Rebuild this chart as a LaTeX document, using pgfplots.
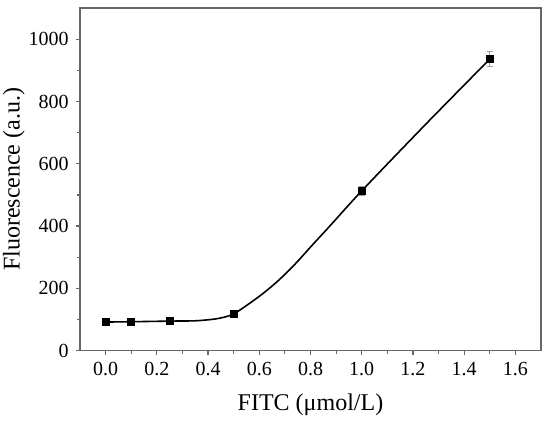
\documentclass[border=0pt]{standalone}
\usepackage{fontspec}
\setmainfont{Liberation Serif}
\usepackage{pgfplots}
\pgfplotsset{compat=1.18}

\definecolor{axisgray}{gray}{0.40}
\definecolor{errgray}{gray}{0.62}

\begin{document}
\begin{tikzpicture}
\begin{axis}[
    name=main,
    at={(0,0)}, anchor=south west,
    scale only axis,
    width=230.5pt, height=171.35pt,
    xmin=-0.1, xmax=1.7,
    ymin=0, ymax=1100,
    xtick={0,0.2,...,1.6},
    ytick={0,200,...,1000},
    minor x tick num=1,
    minor y tick num=1,
    axis line style={axisgray, line width=0.6pt},
    tick style={axisgray, line width=0.6pt},
    tick align=outside,
    major tick length=2.2pt,
    minor tick length=1.6pt,
    xtick pos=bottom, ytick pos=left,
    /pgf/number format/assume math mode=true,
    /pgf/number format/1000 sep={},
    xticklabel style={/pgf/number format/.cd, fixed, fixed zerofill, precision=1},
    ticklabel style={font=\fontsize{10}{12}\selectfont},
    xlabel={FITC (μmol/L)},
    ylabel={Fluorescence (a.u.)},
    label style={font=\fontsize{12}{14}\selectfont},
    xlabel style={yshift=-2pt},
    ylabel style={yshift=-5pt},
]
% fitted curve
\addplot[black, line width=0.8pt, smooth, mark=none] coordinates {
    (0,92) (0.1,93) (0.25,95) (0.35,96) (0.42,101) (0.46,107) (0.5,118)
    (0.55,145) (0.612,182) (0.677,227) (0.742,280) (0.807,339)
    (0.872,397) (1.0,513) (1.25,727) (1.5,936)
};
% measured points
\addplot[only marks, mark=square*, mark size=1.8pt, black,
    error bars/.cd, y dir=both, y explicit,
    error bar style={errgray, line width=0.5pt},
    error mark options={rotate=90, errgray, mark size=1.6pt, line width=0.5pt}]
    coordinates {
    (0,92) +- (0,4)
    (0.1,92) +- (0,4)
    (0.25,95) +- (0,4)
    (0.5,118) +- (0,12)
    (1.0,513) +- (0,15)
    (1.5,936) +- (0,23)
};
\end{axis}
\pgfresetboundingbox
\useasboundingbox (-40pt,-36.15pt) rectangle (235pt,175.35pt);
\end{tikzpicture}
\end{document}
